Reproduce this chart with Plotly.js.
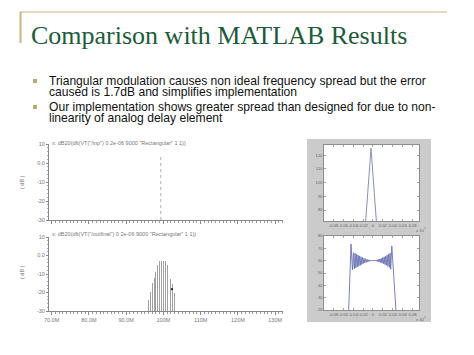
<!DOCTYPE html>
<html><head><meta charset="utf-8">
<script src="https://cdn.plot.ly/plotly-3.0.1.min.js"></script>
<style>html,body{margin:0;padding:0;background:#fff;}#c{width:474px;height:355px;}</style>
</head><body><div id="c"></div>
<script>
// ---- Data ----
const slideTitle = 'Comparison with MATLAB Results';
const bulletLines = [
  'Triangular modulation causes non ideal frequency spread but the error',
  'caused is 1.7dB and simplifies implementation',
  'Our implementation shows greater spread than designed for due to non-',
  'linearity of analog delay element'
];
const topLeftExpr = 'x: dB20(dft(VT("/inp") 0 2e-06 9000 "Rectangular" 1 1))';
const botLeftExpr = 'x: dB20(dft(VT("/outfinal") 0 2e-06 9000 "Rectangular" 1 1))';

// Left plots: frequency (MHz) vs dB
const leftXTickVals = [70, 80, 90, 100, 110, 120, 130];
const leftXTickText = ['70.0M', '80.0M', '90.0M', '100M', '110M', '120M', '130M'];
const leftYTickVals = [10, 0, -10, -20, -30];
const leftYTickText = ['10', '0.0', '-10', '-20', '-30'];
const inpToneMHz = [99.3, 99.3];
const inpToneDb = [-30, 4.2];
const outFreqMHz = [96.0, 96.5, 97.0, 97.5, 98.0, 98.5, 99.0, 99.5, 100.0, 100.5, 101.0, 101.5, 102.0, 102.5, 103.0];
const outDb = [-23.8, -19.5, -15.0, -12.0, -9.0, -5.0, -3.0, -2.8, -2.8, -2.8, -5.2, -9.2, -12.5, -15.5, -20.0];
const cursorMHz = [102.3];
const cursorDb = [-18.2];

// Right plots (MATLAB)
const rightXTickVals = [-0.08, -0.06, -0.04, -0.02, 0, 0.02, 0.04, 0.06, 0.08];
const rightXTickText = ['-0.08', '-0.06', '-0.04', '-0.02', '0', '0.02', '0.04', '0.06', '0.08'];
const matTopX = [-0.016, -0.004, 0.008];
const matTopY = [66, 125, 66];
const matTopYTicks = [80, 90, 100, 110, 120];
const matBotX = [-0.0500, -0.0444, -0.0415, -0.0395, -0.0378, -0.0362, -0.0346, -0.0331, -0.0316, -0.0301,
  -0.0286, -0.0271, -0.0256, -0.0241, -0.0226, -0.0211, -0.0196, -0.0181, -0.0166, -0.0151,
  -0.0136, -0.0121, -0.0106, -0.0091, -0.0076, -0.0061, -0.0046, -0.0031, -0.0016, 0,
  0.0016, 0.0031, 0.0046, 0.0061, 0.0076, 0.0091, 0.0106, 0.0121, 0.0136, 0.0151,
  0.0166, 0.0181, 0.0196, 0.0211, 0.0226, 0.0241, 0.0256, 0.0271, 0.0286, 0.0301,
  0.0316, 0.0331, 0.0346, 0.0358, 0.0380, 0.0480];
const matBotY = [10, 73.5, 52.5, 66.5, 53.5, 66, 54, 65.2, 55, 64.5,
  55.5, 63.8, 56.2, 63.2, 57, 62.6, 57.6, 62, 58.2, 61.5,
  58.6, 61.1, 59, 60.7, 59.4, 60.4, 59.7, 60.2, 59.9, 60,
  60.1, 59.8, 60.3, 59.6, 60.6, 59.3, 61, 58.9, 61.4, 58.5,
  61.9, 58, 62.5, 57.5, 63.1, 56.9, 63.8, 56.2, 64.5, 55.5,
  65.3, 54.5, 66, 53, 71.9, 10];
const matBotYTicks = [20, 30, 40, 50, 60, 70, 80];

// ---- Layout helpers ----
const W = 474, H = 355;
const px = v => v / W;
const py = v => 1 - v / H;

const tinyFont = {family: 'Liberation Sans', size: 5.5, color: '#777'};
const matFont = {family: 'Liberation Sans', size: 4.2, color: '#666'};

function leftX(dom, showLabels) {
  return {domain: dom, range: [69.3, 132.1], showgrid: false, zeroline: false,
    showline: true, linecolor: '#888', linewidth: 1,
    ticks: 'outside', ticklen: 3, tickcolor: '#888', tickwidth: 1,
    tickvals: leftXTickVals, ticktext: leftXTickText, showticklabels: showLabels, tickangle: 0,
    tickfont: tinyFont, minor: {dtick: 1, tick0: 0, ticks: 'outside', ticklen: 2, tickcolor: '#999'}};
}
function leftY(dom) {
  return {domain: dom, range: [-30, 10], showgrid: false, zeroline: false,
    showline: true, linecolor: '#888', linewidth: 1,
    ticks: 'outside', ticklen: 2, tickcolor: '#888',
    tickvals: leftYTickVals, ticktext: leftYTickText, tickfont: tinyFont,
    minor: {dtick: 2, ticks: 'outside', ticklen: 1.5, tickcolor: '#aaa'}};
}
function rightX(dom, anchor) {
  return {domain: dom, anchor: anchor, range: [-0.099, 0.093], showgrid: false, zeroline: false,
    showline: true, mirror: 'ticks', linecolor: '#666', linewidth: 0.6,
    ticks: 'inside', ticklen: 2, tickcolor: '#666', tickwidth: 0.6, tickangle: 0,
    tickvals: rightXTickVals, ticktext: rightXTickText, tickfont: matFont};
}
function rightY(dom, anchor, range, ticks) {
  return {domain: dom, anchor: anchor, range: range, showgrid: false, zeroline: false,
    showline: true, mirror: 'ticks', linecolor: '#666', linewidth: 0.6,
    ticks: 'inside', ticklen: 2, tickcolor: '#666', tickwidth: 0.6,
    tickvals: ticks, tickfont: matFont};
}

const traces = [
  {type: 'scatter', mode: 'lines', x: inpToneMHz, y: inpToneDb, xaxis: 'x', yaxis: 'y',
   line: {color: '#9a9a9a', width: 0.8, dash: 'dot'}, hoverinfo: 'skip'},
  {type: 'bar', x: outFreqMHz, y: outDb.map(v => v + 30), base: outDb.map(() => -30),
   xaxis: 'x2', yaxis: 'y2', width: 0.26, marker: {color: '#a0a0a0', line: {width: 0}}},
  {type: 'scatter', mode: 'markers', x: cursorMHz, y: cursorDb, xaxis: 'x2', yaxis: 'y2',
   marker: {color: '#222', size: 2, symbol: 'square'}},
  {type: 'scatter', mode: 'lines', x: matTopX, y: matTopY, xaxis: 'x3', yaxis: 'y3',
   line: {color: '#8a90b4', width: 1}},
  {type: 'scatter', mode: 'lines', x: matBotX, y: matBotY, xaxis: 'x4', yaxis: 'y4',
   line: {color: '#6a72b6', width: 0.9}}
];

const goldLine = '#c9b57c';
const shapes = [
  {type: 'line', xref: 'paper', yref: 'paper', x0: px(20), x1: px(447), y0: py(12), y1: py(12), line: {color: goldLine, width: 1.2}},
  {type: 'line', xref: 'paper', yref: 'paper', x0: px(20.5), x1: px(20.5), y0: py(12), y1: py(43), line: {color: goldLine, width: 2}},
  {type: 'rect', xref: 'paper', yref: 'paper', x0: px(33), x1: px(37), y0: py(79), y1: py(83), fillcolor: '#bfa86c', line: {width: 0}},
  {type: 'rect', xref: 'paper', yref: 'paper', x0: px(33), x1: px(37), y0: py(105), y1: py(109), fillcolor: '#bfa86c', line: {width: 0}},
  {type: 'rect', xref: 'paper', yref: 'paper', x0: px(307), x1: px(431), y0: py(322), y1: py(139), fillcolor: '#cbcbcb', line: {width: 0}, layer: 'below'},
  {type: 'rect', xref: 'paper', yref: 'paper', x0: px(324), x1: px(419), y0: py(221), y1: py(145), fillcolor: '#ffffff', line: {width: 0}, layer: 'below'},
  {type: 'rect', xref: 'paper', yref: 'paper', x0: px(324), x1: px(419), y0: py(310), y1: py(236), fillcolor: '#ffffff', line: {width: 0}, layer: 'below'}
];

const annotations = [];
const bulletY = [80.5, 91.5, 106.5, 117.5];
bulletLines.forEach((t, i) => annotations.push({
  xref: 'paper', yref: 'paper', x: px(46.5), y: py(bulletY[i]), xanchor: 'left', yanchor: 'middle',
  text: t, showarrow: false, font: {family: 'Liberation Sans', size: 12.1, color: '#111'}
}));
annotations.push({xref: 'paper', yref: 'paper', x: px(50), y: py(143), xanchor: 'left', yanchor: 'middle',
  text: topLeftExpr, showarrow: false, font: tinyFont});
annotations.push({xref: 'paper', yref: 'paper', x: px(50), y: py(234), xanchor: 'left', yanchor: 'middle',
  text: botLeftExpr, showarrow: false, font: tinyFont});
[182, 272].forEach(yy => annotations.push({xref: 'paper', yref: 'paper', x: px(22), y: py(yy),
  xanchor: 'center', yanchor: 'middle', text: '( dB )', textangle: -90, showarrow: false, font: tinyFont}));
[230, 319].forEach(yy => annotations.push({xref: 'paper', yref: 'paper', x: px(421), y: py(yy),
  xanchor: 'center', yanchor: 'middle', text: 'x 10<sup>7</sup>', showarrow: false, font: matFont}));

const layout = {
  width: W, height: H, margin: {l: 0, r: 0, t: 0, b: 0},
  paper_bgcolor: '#ffffff', plot_bgcolor: 'rgba(0,0,0,0)', showlegend: false, bargap: 0,
  title: {text: slideTitle, x: px(31), xanchor: 'left', y: py(35), yanchor: 'middle',
    font: {family: 'Liberation Serif', size: 26, color: '#1d5b3a'}},
  xaxis: Object.assign(leftX([px(49), px(283)], false), {anchor: 'y'}),
  yaxis: Object.assign(leftY([py(220), py(144)]), {anchor: 'x'}),
  xaxis2: Object.assign(leftX([px(49), px(283)], true), {anchor: 'y2'}),
  yaxis2: Object.assign(leftY([py(311), py(237)]), {anchor: 'x2'}),
  xaxis3: rightX([px(324), px(419)], 'y3'),
  yaxis3: rightY([py(221), py(145)], 'x3', [72, 127.3], matTopYTicks),
  xaxis4: rightX([px(324), px(419)], 'y4'),
  yaxis4: rightY([py(310), py(236)], 'x4', [20, 80], matBotYTicks),
  shapes: shapes, annotations: annotations
};

Plotly.newPlot('c', traces, layout, {displayModeBar: false, staticPlot: true});
</script></body></html>
